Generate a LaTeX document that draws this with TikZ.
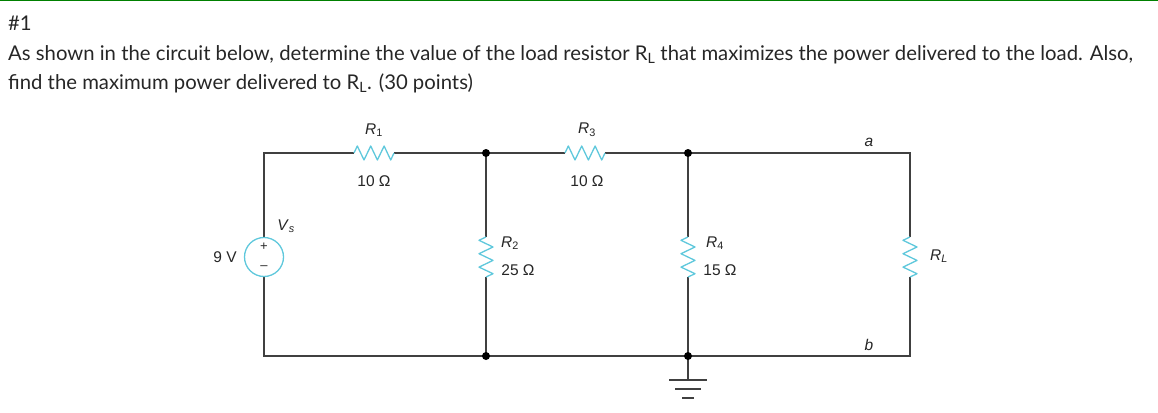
\documentclass[tikz,border=0pt]{standalone}
\usepackage{fontspec}
\usetikzlibrary{calc}
\setmainfont{Lato}
\newfontfamily\cf{Liberation Sans}
\begin{document}
\begin{tikzpicture}[x=1pt,y=-1pt,
  wire/.style={line width=1.1pt,black!75},
  res/.style={line width=1.3pt,color={rgb,255:red,95;green,200;blue,220},line join=round},
  lab/.style={font=\cf\fontsize{15.5}{18}\selectfont,inner sep=0pt,text=black!85},
  txt/.style={font=\fontsize{20.3}{24}\selectfont,anchor=west,inner sep=0pt,text=black!85}]
\useasboundingbox (0,0) rectangle (1158,412);
\draw[line width=1pt,color={rgb,255:red,0;green,128;blue,0}] (0,1) -- (1158,1);
\node[txt] (h) at (8,23) {\#1};
\node[txt] (t1) at (8,55) {As shown in the circuit below, determine the value of the load resistor R\textsubscript{L} that maximizes the power delivered to the load. Also,};
\node[txt] (t2) at (8,83) {find the maximum power delivered to R\textsubscript{L}. (30 points)};
% coordinates
\coordinate (tl) at (264,153); \coordinate (bl) at (264,356);
\coordinate (n1) at (486,153); \coordinate (n1b) at (486,356);
\coordinate (n2) at (688,153); \coordinate (n2b) at (688,356);
\coordinate (tr) at (910,153); \coordinate (br) at (910,356);
\coordinate (r1a) at (354,153); \coordinate (r1b) at (394,153);
\coordinate (r3a) at (565,153); \coordinate (r3b) at (605,153);
\coordinate (r2a) at (486,237); \coordinate (r2b) at (486,277);
\coordinate (r4a) at (688,237); \coordinate (r4b) at (688,277);
\coordinate (rla) at (910,237); \coordinate (rlb) at (910,277);
\coordinate (gnd) at (688,380);
\node[circle,draw=none,minimum size=40pt,inner sep=0pt] (vs) at (264,257) {};
% wires
\draw[wire] (vs.north) -- (tl) -- (r1a);
\draw[wire] (r1b) -- (n1) -- (r3a);
\draw[wire] (r3b) -- (n2) -- (tr) -- (rla);
\draw[wire] (rlb) -- (br) -- (bl) -- (vs.south);
\draw[wire] (n1) -- (r2a); \draw[wire] (r2b) -- (n1b);
\draw[wire] (n2) -- (r4a); \draw[wire] (r4b) -- (n2b) -- (gnd);
\draw[wire] ($(gnd)+(-19,0)$) -- ($(gnd)+(19,0)$);
\draw[wire] ($(gnd)+(-13,9)$) -- ($(gnd)+(13,9)$);
\draw[wire] ($(gnd)+(-6,18)$) -- ($(gnd)+(6,18)$);
% resistors
\foreach \p in {r1a,r3a}{
  \draw[res] (\p) -- ++(3.3,-7) -- ++(6.7,14) -- ++(6.7,-14) -- ++(6.7,14) -- ++(6.7,-14) -- ++(6.6,14) -- ++(3.3,-7);}
\foreach \p in {r2a,r4a,rla}{
  \draw[res] (\p) -- ++(-7,3.3) -- ++(14,6.7) -- ++(-14,6.7) -- ++(14,6.7) -- ++(-14,6.7) -- ++(14,6.6) -- ++(-7,3.3);}
\draw[res] (vs) circle (19.5);
\node[lab,font=\cf\fontsize{13}{15}\selectfont] (pl) at (264,247) {+};
\node[lab,font=\cf\fontsize{13}{15}\selectfont] (mi) at (264,268) {\textendash};
\fill (n1) circle (4); \fill (n2) circle (4); \fill (n1b) circle (4); \fill (n2b) circle (4);
% labels
\node[lab] (l1) at (374,130) {\textit{R}\textsubscript{1}};
\node[lab] (v1) at (374,181) {10 Ω};
\node[lab] (l3) at (587,130) {\textit{R}\textsubscript{3}};
\node[lab] (v3) at (587,181) {10 Ω};
\node[lab] (l2) at (510,243) {\textit{R}\textsubscript{2}};
\node[lab] (v2) at (518,270) {25 Ω};
\node[lab] (l4) at (715,243) {\textit{R}\textsubscript{4}};
\node[lab] (v4) at (720,270) {15 Ω};
\node[lab] (ll) at (939,256) {\textit{R}\textsubscript{\textit{L}}};
\node[lab] (vsl) at (286,226) {\textit{V}\textsubscript{\textit{s}}};
\node[lab] (nv) at (225,257) {9 V};
\node[lab] (a) at (869,142) {\textit{a}};
\node[lab] (b) at (869,345) {\textit{b}};
\end{tikzpicture}
\end{document}
